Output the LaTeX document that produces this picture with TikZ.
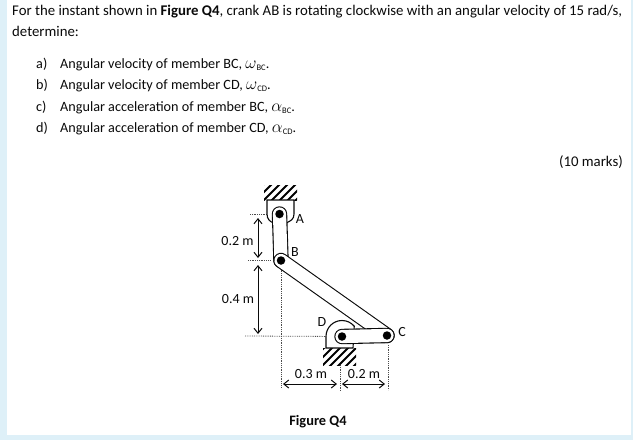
\documentclass[tikz,border=0pt]{standalone}
\usepackage{fontspec}
\setmainfont{Carlito}
\usetikzlibrary{arrows.meta}
\definecolor{pagebg}{RGB}{222,240,248}
\definecolor{ink}{RGB}{10,10,10}
\DeclareMathSizes{14.2}{17}{10}{8}
\newcommand{\symb}[2]{$#1$\raisebox{-2pt}{\fontsize{8.5pt}{9pt}\selectfont #2}}
\tikzset{
  body/.style={font=\fontsize{14.8pt}{16pt}\selectfont,text=ink,inner sep=0pt},
  item/.style={font=\fontsize{14.2pt}{16pt}\selectfont,text=ink,inner sep=0pt},
  lab/.style={font=\fontsize{14pt}{15pt}\selectfont,text=ink,inner sep=0pt},
  linkout/.style={draw=ink,line width=15.4pt,line cap=round},
  linkin/.style={draw=white,line width=13.2pt,line cap=round},
  support/.style={draw=ink,line width=1.1pt,fill=white},
  pin/.style={circle,fill=black,minimum size=8.5pt,inner sep=0pt},
  guide/.style={densely dotted,draw=black!70,line width=0.8pt},
  dim/.style={draw=ink,line width=1pt,{Straight Barb[length=5pt,width=8pt]}-{Straight Barb[length=5pt,width=8pt]}},
  hatch/.style={draw=black,line width=1.9pt},
}
\newcommand{\hatchbox}[4]{%
  \begin{scope}
    \clip (#1,#2) rectangle (#3,#4);
    \foreach \s in {-60,-52,...,500}{\draw[hatch] (\s,460) -- ++(460,-460);}
  \end{scope}}
\begin{document}
\begin{tikzpicture}[x=1pt,y=-1pt]
\useasboundingbox (0,0) rectangle (633,440);
\fill[pagebg] (0,0) rectangle (633,440);
\fill[white] (7,0) rectangle (631,435);
% text
\node[body,anchor=base west] (l1) at (12,15) {For the instant shown in \textbf{Figure Q4}, crank AB is rotating clockwise with an angular velocity of 15 rad/s,};
\node[body,anchor=base west] (l2) at (12,36) {determine:};
\node[item,anchor=base west] (a) at (36,68) {a)};
\node[item,anchor=base west] (a2) at (60,68) {Angular velocity of member BC, \symb{\omega}{BC}.};
\node[item,anchor=base west] (b) at (36,89.5) {b)};
\node[item,anchor=base west] (b2) at (60,89.5) {Angular velocity of member CD, \symb{\omega}{CD}.};
\node[item,anchor=base west] (c) at (36,111) {c)};
\node[item,anchor=base west] (c2) at (60,111) {Angular acceleration of member BC, \symb{\alpha}{BC}.};
\node[item,anchor=base west] (d) at (36,132) {d)};
\node[item,anchor=base west] (d2) at (60,132) {Angular acceleration of member CD, \symb{\alpha}{CD}.};
\node[body,anchor=base east] (marks) at (623,166) {(10 marks)};
% joints
\coordinate (A) at (279.5,214);
\coordinate (B) at (281,260.5);
\coordinate (C) at (387,335.5);
\coordinate (D) at (342,336.5);
% guides
\coordinate (g1) at (250,214); \coordinate (g1e) at (270,214);
\coordinate (g2) at (248,260); \coordinate (g2e) at (270,260);
\coordinate (g3) at (245,336);
\coordinate (g4) at (281,388);
\coordinate (g5) at (340,365); \coordinate (g5e) at (340,391);
\coordinate (g6) at (388,345); \coordinate (g6e) at (388,390);
\draw[guide] (g1) -- (g1e);
\draw[guide] (g2) -- (g2e);
\draw[guide] (g3) -- (D);
\draw[guide] (B) -- (g4);
\draw[guide] (g5) -- (g5e);
\draw[guide] (g6) -- (g6e);
% ground A
\hatchbox{264}{185}{297}{200}
\draw[support] (267,200) -- (267,214) .. controls (267,219) and (270,222) .. (274,223) -- (286,223) .. controls (291,221) and (294,219) .. (294,214) -- (294,200) -- cycle;
% ground D
\hatchbox{323}{348}{356}{365}
\draw[support] (326,348) -- (326,336.5) arc[start angle=180,end angle=320,radius=16] -- (353,348) -- cycle;
% links
\draw[linkout] (A) -- (B);
\draw[linkin] (A) -- (B);
\draw[linkout] (B) -- (C);
\draw[linkin] (B) -- (C);
\draw[linkout] (D) -- (C);
\draw[linkin] (D) -- (C);
% pins
\node[pin] (pA) at (A) {};
\node[pin] (pB) at (B) {};
\node[pin] (pC) at (C) {};
\node[pin] (pD) at (D) {};
% dimensions
\coordinate (d1a) at (258,218); \coordinate (d1b) at (258,258);
\coordinate (d2a) at (258,265); \coordinate (d2b) at (258,334);
\coordinate (d3a) at (283,384); \coordinate (d3b) at (337,384);
\coordinate (d4a) at (342,384); \coordinate (d4b) at (385,384);
\draw[dim] (d1a) -- (d1b);
\draw[dim] (d2a) -- (d2b);
\draw[dim] (d3a) -- (d3b);
\draw[dim] (d4a) -- (d4b);
% labels
\node[lab] (t1) at (237.5,241) {0.2 m};
\node[lab] (t2) at (238,299) {0.4 m};
\node[lab] (t3) at (311,374) {0.3 m};
\node[lab] (t4) at (364,374) {0.2 m};
\node[lab] (lA) at (300,219) {A};
\node[lab] (lB) at (295,252) {B};
\node[lab] (lC) at (402,332) {C};
\node[lab] (lD) at (322,322) {D};
\node[lab,font=\fontsize{14.4pt}{15pt}\selectfont\bfseries] (fig) at (318,422) {Figure Q4};
\end{tikzpicture}
\end{document}
